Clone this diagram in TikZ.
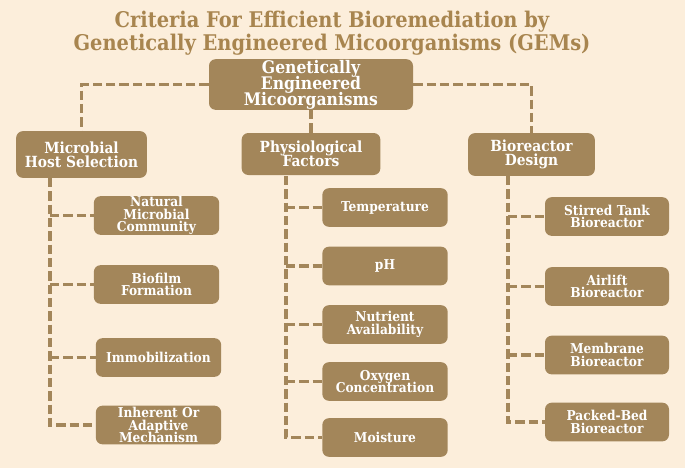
\documentclass[tikz,border=0pt]{standalone}
\usepackage{fontspec}
\setmainfont{DejaVu Serif Condensed}
\definecolor{bg}{HTML}{FCEEDB}
\definecolor{boxc}{HTML}{A3865A}
\definecolor{titlec}{HTML}{A8854F}
\newcommand\mytight{\lineskiplimit=-100pt\relax}
\begin{document}
\begin{tikzpicture}[x=0.75pt,y=-0.75pt,
  box/.style={fill=boxc, rounded corners=5pt, text=white, align=center, inner sep=0pt,
    font=\bfseries\fontsize{10.2}{9.4}\selectfont\mytight},
  topbox/.style={box, font=\bfseries\fontsize{11.5}{10.8}\selectfont\mytight},
  link/.style={draw=boxc, line width=2.5pt, dash pattern=on 7pt off 3pt}]
\useasboundingbox (0,0) rectangle (685,468);
\fill[bg] (0,0) rectangle (685,468);
\node[text=titlec, align=center, font=\bfseries\fontsize{16.2}{15.2}\selectfont] (title) at (332,33)
  {Criteria For Efficient Bioremediation by\\Genetically Engineered Micoorganisms (GEMs)};
% level 1
\node[topbox, font=\bfseries\fontsize{13}{12}\selectfont\mytight, minimum width=153pt, minimum height=38pt] (gem) at (311,84.5) {Genetically\\Engineered\\Micoorganisms};
\node[topbox, minimum width=98pt, minimum height=35pt] (msel) at (81.5,154.5) {Microbial\\Host Selection};
\node[topbox, minimum width=104pt, minimum height=31.5pt] (phys) at (311,154) {Physiological\\Factors};
\node[topbox, minimum width=95pt, minimum height=32pt] (bio) at (531.5,154.5) {Bioreactor\\Design};
% left children
\node[box, minimum width=94pt, minimum height=29pt] (nat) at (156.5,215.5) {Natural\\Microbial\\Community};
\node[box, minimum width=94pt, minimum height=29pt] (bf) at (156.5,284.5) {Biofilm\\Formation};
\node[box, minimum width=94pt, minimum height=29pt] (imm) at (158.5,357.5) {Immobilization};
\node[box, minimum width=94pt, minimum height=29pt] (inh) at (158.5,425) {Inherent Or\\Adaptive\\Mechanism};
% middle children
\node[box, minimum width=94pt, minimum height=29pt] (temp) at (385,207.5) {Temperature};
\node[box, minimum width=94pt, minimum height=29pt] (ph) at (385,266) {pH};
\node[box, minimum width=94pt, minimum height=29pt] (nut) at (385,324.5) {Nutrient\\Availability};
\node[box, minimum width=94pt, minimum height=29pt] (oxy) at (385,381.5) {Oxygen\\Concentration};
\node[box, minimum width=94pt, minimum height=29pt] (moi) at (385,437.5) {Moisture};
% right children
\node[box, minimum width=93pt, minimum height=29pt] (stk) at (607,216.5) {Stirred Tank\\Bioreactor};
\node[box, minimum width=93pt, minimum height=29pt] (air) at (607,286.5) {Airlift\\Bioreactor};
\node[box, minimum width=93pt, minimum height=29pt] (mem) at (607,355) {Membrane\\Bioreactor};
\node[box, minimum width=93pt, minimum height=29pt] (pbd) at (607,422) {Packed-Bed\\Bioreactor};
% top links
\draw[link] (gem.west) -| (msel.north);
\draw[link] (gem.east) -| (bio.north);
\draw[link] (gem.south) -- (phys.north);
% trunks
\coordinate (lt) at (50,178);
\coordinate (mt) at (286,176);
\coordinate (rt) at (508,176);
\draw[link] (lt) |- (inh.west);
\foreach \c in {nat,bf,imm} \draw[link] (lt |- \c.west) -- (\c.west);
\draw[link] (mt) |- (moi.west);
\foreach \c in {temp,ph,nut,oxy} \draw[link] (mt |- \c.west) -- (\c.west);
\draw[link] (rt) |- (pbd.west);
\foreach \c in {stk,air,mem} \draw[link] (rt |- \c.west) -- (\c.west);
\end{tikzpicture}
\end{document}
